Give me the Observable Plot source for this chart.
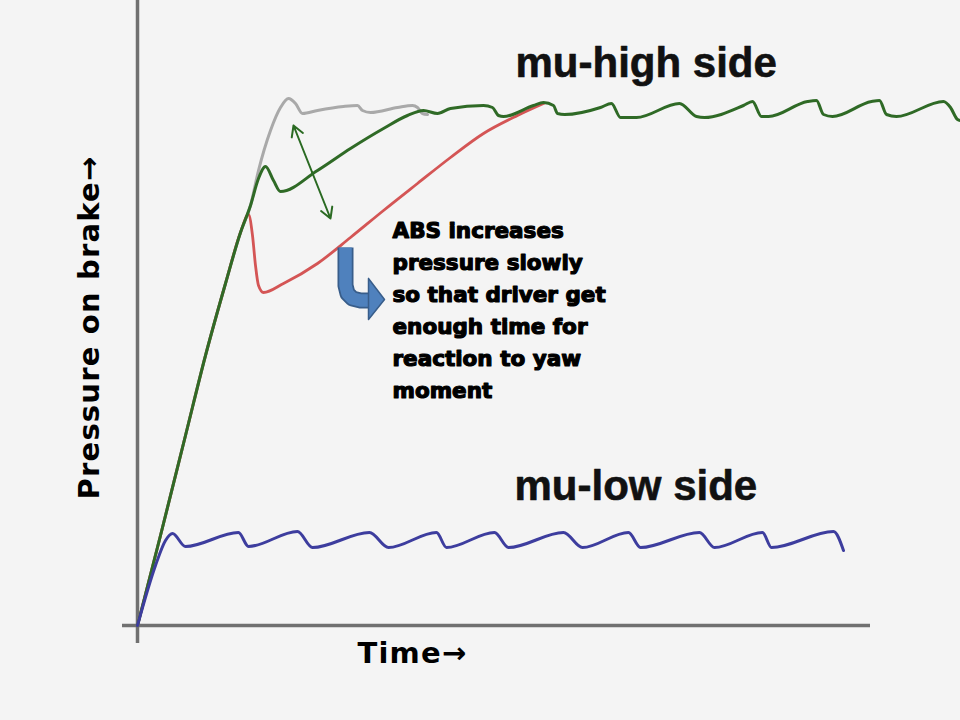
<!DOCTYPE html>
<html>
<head>
<meta charset="utf-8">
<script src="https://cdn.jsdelivr.net/npm/d3@7"></script>
<script src="https://cdn.jsdelivr.net/npm/@observablehq/plot@0.6"></script>
<style>
  html, body { margin: 0; padding: 0; background: #f4f4f4; }
  #chart svg { display: block; }
</style>
</head>
<body>
<div id="chart"></div>
<script>
// Time (arbitrary units) and brake pressure (arbitrary units)
const muLow = [[0,0],[1.8,6.0],[2.8,8.5],[3.5,9.2],[4.8,7.9],[10.1,9.3],[11.1,7.9],[16.0,9.4],[17.5,7.8],[23.2,9.3],[25.1,7.8],[29.9,9.3],[30.9,7.8],[35.7,9.3],[37.1,7.8],[42.6,9.3],[44.5,7.8],[49.1,9.3],[50.3,7.8],[56.2,9.3],[57.7,7.8],[62.5,9.3],[63.4,7.8],[69.6,9.4],[70.6,7.5]];

const highGray = [[0,0],[2.3,9.0],[4.8,19.0],[6.8,27.0],[8.8,34.2],[10.3,39.3],[11.3,42.0],[12.1,45.5],[13.3,49.5],[14.3,51.8],[15.1,52.7],[15.8,52.2],[16.5,51.2],[18.0,51.5],[20.6,51.9],[22.0,52.0],[22.5,51.5],[23.3,51.3],[26.0,51.8],[27.5,52.0],[28.0,51.8],[28.5,51.2],[29.0,51.1]];

const highRed = [[0,0],[2.3,9.0],[4.8,19.0],[6.8,27.0],[8.8,34.2],[10.3,39.3],[11.1,41.1],[11.5,39.0],[11.8,36.0],[12.1,34.0],[12.6,33.3],[14.6,34.2],[18.0,36.2],[21.3,38.8],[24.6,41.5],[28.0,44.2],[31.3,46.8],[34.6,49.2],[38.0,51.0],[40.6,52.2]];

const highGreen = [[0,0],[2.3,9.0],[4.8,19.0],[6.8,27.0],[8.8,34.2],[10.3,39.3],[11.3,42.0],[12.1,44.7],[12.8,45.9],[13.6,44.5],[14.3,43.4],[18.0,45.5],[21.3,47.7],[24.6,49.7],[27.0,51.0],[28.6,51.5],[30.0,51.2],[31.3,51.7],[34.6,52.0],[35.5,51.8],[36.1,51.0],[36.6,50.9],[39.6,52.0],[40.6,52.3],[41.6,52.0],[42.0,51.2],[42.7,51.1],[46.3,51.8],[47.4,52.2],[48.3,50.8],[49.9,50.8],[54.2,52.2],[55.9,50.9],[56.7,50.8],[60.6,52.0],[61.5,52.4],[62.4,50.9],[63.1,50.9],[67.0,52.4],[67.9,52.5],[68.6,51.1],[69.5,50.9],[73.4,52.4],[74.2,52.5],[74.9,51.1],[75.9,50.9],[80.6,52.4],[81.3,51.8],[82.0,50.6],[82.3,50.5]];

// Annotations
const doubleArrowEnds = [[15.6,50.0],[19.3,40.7]];
const bentArrowBody = [[20.8,37.8],[20.8,34.0],[21.0,33.2],[21.5,32.7],[22.3,32.5],[23.3,32.5]];
const bentArrowHead = [[23.1,34.7],[24.7,32.6],[23.1,30.6],[23.1,34.7]];

const sideLabels = ["mu-high side", "mu-low side"];
const sideLabelPos = [[37.8,57.8],[37.7,15.5]];
const noteText = "ABS increases\npressure slowly\nso that driver get\nenough time for\nreaction to yaw\nmoment";
const notePos = [25.5, 41.0];
const xLabel = "Time\u2192";
const xLabelPos = [22.0, -1.7];
const yLabel = "Pressure on brake\u2192";
const yLabelPos = [-5.9, 29.8];

const mid = [(doubleArrowEnds[0][0]+doubleArrowEnds[1][0])/2, (doubleArrowEnds[0][1]+doubleArrowEnds[1][1])/2];

const chart = Plot.plot({
  width: 960,
  height: 720,
  marginLeft: 137,
  marginRight: 0,
  marginTop: 0,
  marginBottom: 95,
  x: {domain: [0, 82.3], axis: null},
  y: {domain: [0, 62.5], axis: null},
  style: {background: "#f4f4f4", overflow: "visible"},
  marks: [
    Plot.ruleX([0], {y1: 62.5, y2: -1.8, stroke: "#707070", strokeWidth: 3.5}),
    Plot.ruleY([0], {x1: -1.5, x2: 73.3, stroke: "#707070", strokeWidth: 3.5}),
    Plot.line(highGray, {x: d => d[0], y: d => d[1], stroke: "#a9a9a9", strokeWidth: 3, curve: "monotone-x"}),
    Plot.line(highRed, {x: d => d[0], y: d => d[1], stroke: "#d45555", strokeWidth: 2.8, curve: "monotone-x"}),
    Plot.line(highGreen, {x: d => d[0], y: d => d[1], stroke: "#2f6a26", strokeWidth: 3, curve: "monotone-x"}),
    Plot.line(muLow, {x: d => d[0], y: d => d[1], stroke: "#3d3d9e", strokeWidth: 3, curve: "monotone-x"}),
    Plot.arrow([mid], {x1: d => d[0], y1: d => d[1], x2: () => doubleArrowEnds[0][0], y2: () => doubleArrowEnds[0][1], stroke: "#2a6a22", strokeWidth: 2, headLength: 9}),
    Plot.arrow([mid], {x1: d => d[0], y1: d => d[1], x2: () => doubleArrowEnds[1][0], y2: () => doubleArrowEnds[1][1], stroke: "#2a6a22", strokeWidth: 2, headLength: 9}),
    Plot.line(bentArrowBody, {x: d => d[0], y: d => d[1], stroke: "#385d8a", strokeWidth: 16, strokeLinecap: "butt", curve: "linear"}),
    Plot.line(bentArrowBody, {x: d => d[0], y: d => d[1], stroke: "#4f81bd", strokeWidth: 12.5, strokeLinecap: "butt", curve: "linear"}),
    Plot.line(bentArrowHead, {x: d => d[0], y: d => d[1], fill: "#4f81bd", stroke: "#385d8a", strokeWidth: 1.5, curve: "linear"}),
    Plot.text(sideLabels, {x: (d, i) => sideLabelPos[i][0], y: (d, i) => sideLabelPos[i][1], text: d => d, textAnchor: "start", lineAnchor: "top", fontSize: 42, fontWeight: "bold", fontFamily: "Liberation Sans, Arial, sans-serif", fill: "#111", stroke: "#111", strokeWidth: 0.6}),
    Plot.text([noteText], {x: () => notePos[0], y: () => notePos[1], text: d => d, textAnchor: "start", lineAnchor: "top", lineHeight: 1.49, fontSize: 21.5, fontWeight: "bold", fontFamily: "DejaVu Sans, sans-serif", fill: "#000", stroke: "#000", strokeWidth: 1.2}),
    Plot.text([xLabel], {x: () => xLabelPos[0], y: () => xLabelPos[1], text: d => d, textAnchor: "start", lineAnchor: "top", fontSize: 29, fontWeight: "bold", fontFamily: "DejaVu Sans, sans-serif", fill: "#000"}),
    Plot.text([yLabel], {x: () => yLabelPos[0], y: () => yLabelPos[1], text: d => d, textAnchor: "middle", lineAnchor: "top", rotate: -90, fontSize: 29, fontWeight: "bold", fontFamily: "DejaVu Sans, sans-serif", fill: "#000"})
  ]
});
d3.select(chart).selectAll("text").filter(function() { return this.textContent === yLabel || this.textContent === xLabel; }).attr("letter-spacing", "1.2px");
document.getElementById("chart").appendChild(chart);
</script>
</body>
</html>
